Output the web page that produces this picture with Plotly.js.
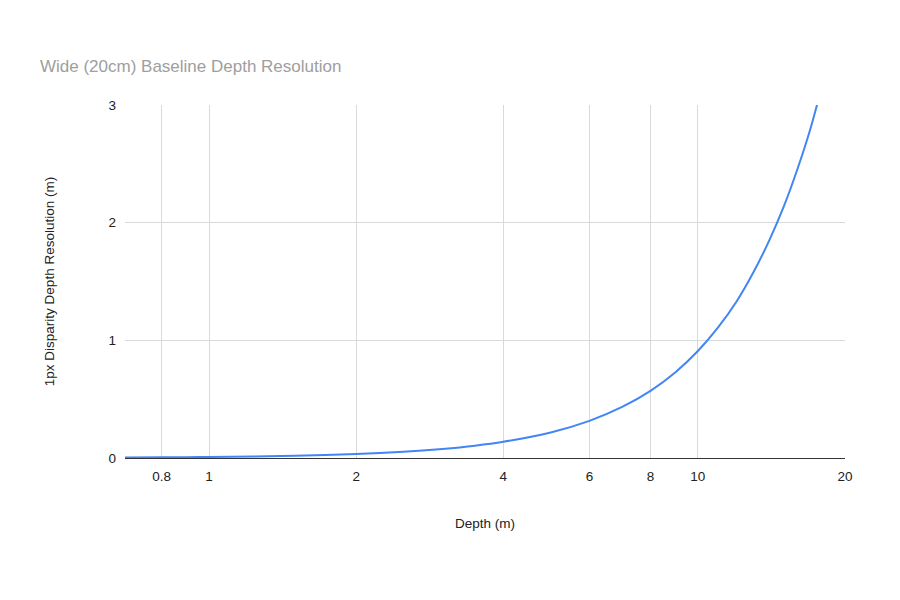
<!DOCTYPE html>
<html>
<head>
<meta charset="utf-8">
<script src="https://cdn.plot.ly/plotly-3.0.1.min.js"></script>
<style>
  html, body { margin: 0; padding: 0; background: #fff; }
  #chart { width: 900px; height: 600px; }
</style>
</head>
<body>
<div id="chart"></div>
<script>
// depth (m) and 1px disparity depth resolution (m)
var depth = [0.67, 0.8, 0.9, 1, 1.5, 2, 2.5, 3, 3.5, 4, 5, 6, 7, 8, 9, 10, 11, 12, 13, 14, 15, 16, 17, 18];
var resolution = [0.0037, 0.0054, 0.0068, 0.0084, 0.019, 0.034, 0.053, 0.077, 0.105, 0.138, 0.217, 0.316,
  0.434, 0.571, 0.729, 0.909, 1.11, 1.33, 1.58, 1.85, 2.14, 2.46, 2.80, 3.18];

var xTicks = [0.8, 1, 2, 4, 6, 8, 10, 20];
var xTickText = ['0.8', '1', '2', '4', '6', '8', '10', '20'];
var yTicks = [0, 1, 2, 3];

var trace = {
  x: depth,
  y: resolution,
  type: 'scatter',
  mode: 'lines',
  line: { color: '#4285f4', width: 2, shape: 'spline', smoothing: 0.6 },
  hoverinfo: 'x+y'
};

var layout = {
  width: 900,
  height: 600,
  margin: { l: 125, r: 55, t: 105, b: 142 },
  paper_bgcolor: '#fff',
  plot_bgcolor: '#fff',
  font: { family: 'Liberation Sans, Arial, sans-serif', size: 13.5, color: '#222' },
  showlegend: false,
  title: {
    text: 'Wide (20cm) Baseline Depth Resolution',
    font: { size: 17, color: '#9e9e9e' },
    xref: 'container', x: 40 / 900, xanchor: 'left',
    yref: 'container', y: 1 - 66 / 600, yanchor: 'middle'
  },
  xaxis: {
    type: 'log',
    range: [Math.log10(0.673), Math.log10(20)],
    tickvals: xTicks,
    ticktext: xTickText,
    showgrid: true,
    gridcolor: '#d9d9d9',
    zeroline: false,
    showline: false,
    ticks: '',
    ticklabelstandoff: 8,
    title: { text: 'Depth (m)', standoff: 36, font: { size: 13.5 } }
  },
  yaxis: {
    range: [0, 3],
    tickvals: yTicks,
    showgrid: true,
    gridcolor: '#d9d9d9',
    zeroline: true,
    zerolinecolor: '#333',
    zerolinewidth: 1,
    showline: false,
    ticks: '',
    ticklabelstandoff: 8,
    title: { text: '1px Disparity Depth Resolution (m)', standoff: 50, font: { size: 13.5 } }
  }
};

Plotly.newPlot('chart', [trace], layout, { displayModeBar: false });
</script>
</body>
</html>
